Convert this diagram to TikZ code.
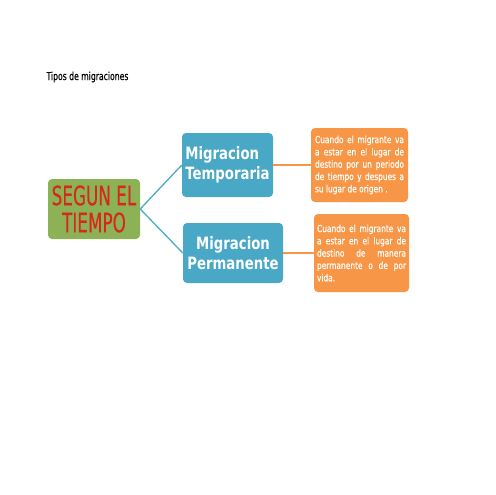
\documentclass[tikz,border=0pt]{standalone}
\usepackage{fontspec}
\setmainfont{DejaVu Sans}
\newfontfamily\fTitle[FakeStretch=0.7,FakeBold=0.3]{DejaVu Sans}
\newfontfamily\fGreen[FakeStretch=0.63,FakeBold=0.25]{DejaVu Sans}
\newfontfamily\fBlue[FakeStretch=0.78]{DejaVu Sans}
\newfontfamily\fOrange[FakeStretch=0.76,FakeBold=0.3]{DejaVu Sans}
\definecolor{gfill}{HTML}{8DB255}
\definecolor{gtext}{HTML}{D42A1E}
\definecolor{bfill}{HTML}{48A8C5}
\definecolor{ofill}{HTML}{F79646}
\definecolor{bline}{HTML}{4BACC6}
\newcommand{\jl}[1]{\makebox[89pt][s]{#1}\\}
\begin{document}
\begin{tikzpicture}[x=1pt,y=-1pt,
  box/.style={rounded corners=4pt,inner sep=0pt},
  greenbox/.style={box,fill=gfill,text=gtext,minimum width=92pt,minimum height=60pt,
    font=\fGreen\fontsize{26.7}{27}\selectfont,align=center},
  bluebox/.style={box,fill=bfill,text=white,minimum height=60pt,
    font=\fBlue\bfseries\fontsize{17}{20}\selectfont},
  orangebox/.style={box,fill=ofill,text=white,
    font=\fOrange\fontsize{9.8}{12.3}\selectfont,align=left},
  blink/.style={draw=bline,line width=1.3pt},
  olink/.style={draw=ofill,line width=1.5pt}]
\useasboundingbox[fill=white] (0,0) rectangle (495,495);
\node[anchor=west,font=\fTitle\fontsize{11}{13}\selectfont] (title) at (43,77) {Tipos de migraciones};
\node[greenbox] (g) at (94,209) {SEGUN EL\\TIEMPO};
\node[bluebox,minimum width=91pt,minimum height=64pt,align=left] (b1) at (227.5,165) {Migracion\\Temporaria};
\node[bluebox,minimum width=100pt,align=center] (b2) at (233,253) {Migracion\\Permanente};
\node[orangebox,minimum width=97pt,minimum height=74pt] (o1) at (359.5,165)
  {\jl{Cuando el migrante va}\jl{a estar en el lugar de}\jl{destino por un periodo}\jl{de tiempo y despues a}su lugar de origen .};
\node[orangebox,minimum width=95pt,minimum height=78pt] (o2) at (361.5,253)
  {\jl{Cuando el migrante va}\jl{a estar en el lugar de}\jl{destino de manera}\jl{permanente o de por}vida.};
\draw[blink] (g.east) -- (b1.west);
\draw[blink] (g.east) -- (b2.west);
\draw[olink] (b1.east) -- (o1.west);
\draw[olink] (b2.east) -- (o2.west);
\end{tikzpicture}
\end{document}
